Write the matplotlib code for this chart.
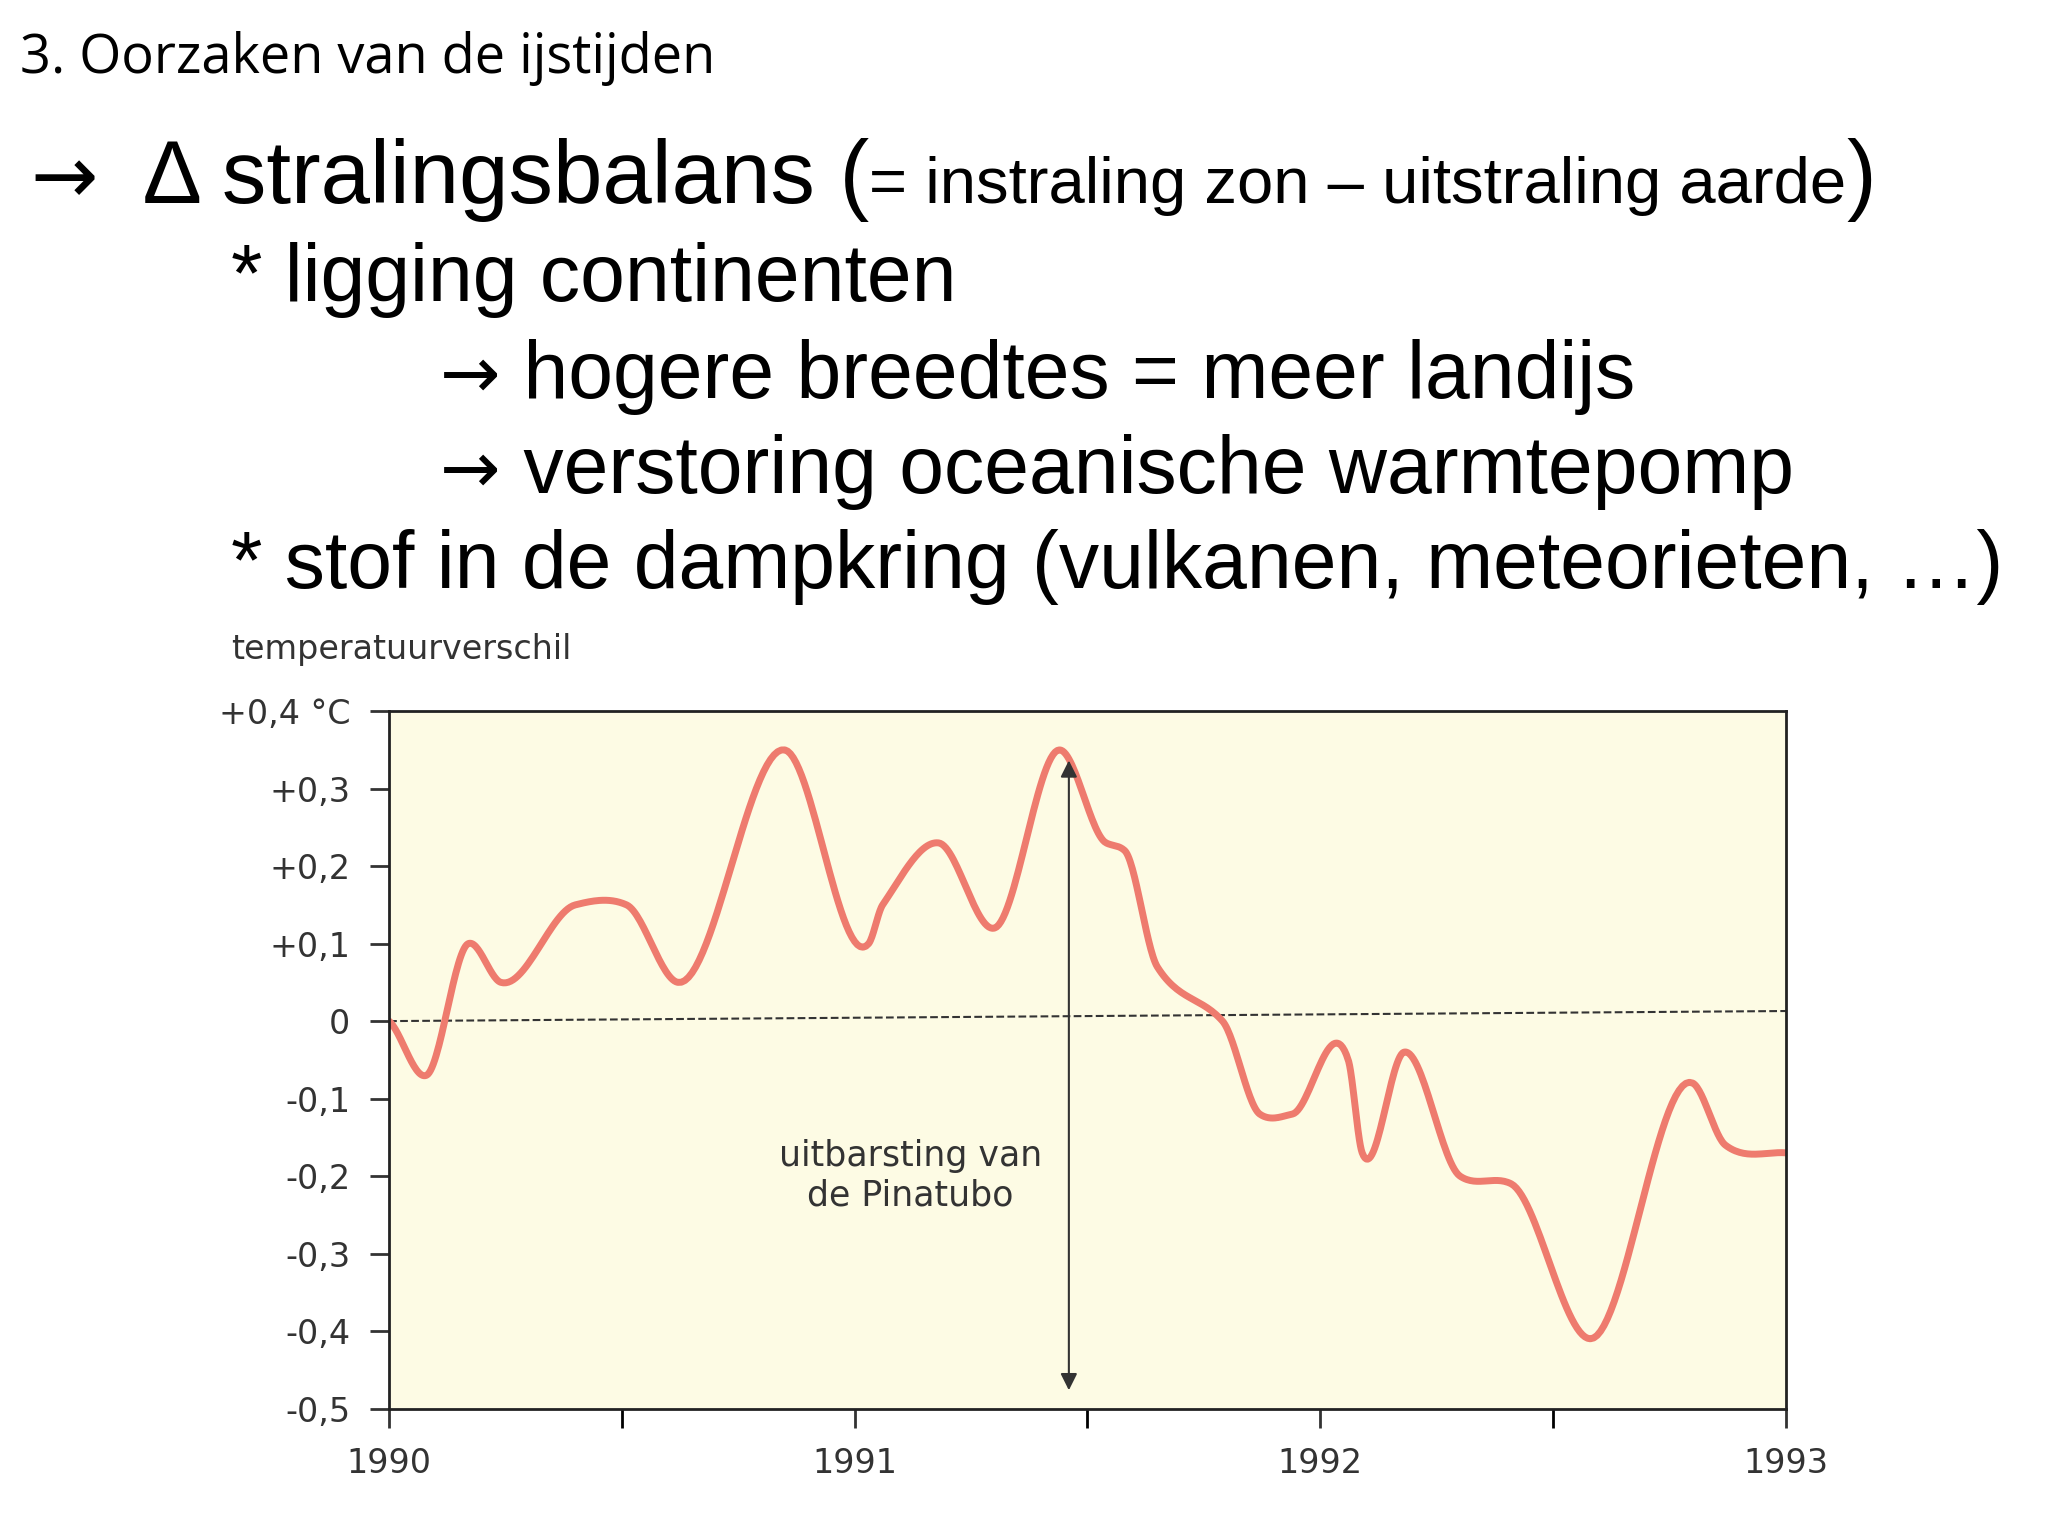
import numpy as np
import matplotlib
matplotlib.use("Agg")
import matplotlib.pyplot as plt

years = [1990.00,1990.08,1990.17,1990.24,1990.40,1990.51,1990.62,1990.85,1991.03,1991.06,1991.18,1991.30,1991.44,1991.54,1991.58,1991.65,1991.79,1991.87,1991.94,1992.06,1992.09,1992.18,1992.30,1992.41,1992.58,1992.80,1992.87,1993.00]
temps = [0.00,-0.07,0.10,0.05,0.15,0.15,0.05,0.35,0.10,0.15,0.23,0.12,0.35,0.23,0.22,0.07,0.00,-0.12,-0.12,-0.05,-0.17,-0.04,-0.20,-0.21,-0.41,-0.08,-0.16,-0.17]
yticks = [0.4,0.3,0.2,0.1,0,-0.1,-0.2,-0.3,-0.4,-0.5]
ylabels = ['+0,4 °C','+0,3','+0,2','+0,1','0','-0,1','-0,2','-0,3','-0,4','-0,5']
xticks = [1990,1991,1992,1993]

def smooth(x, y, n=30):
    x = np.array(x); y = np.array(y)
    xs, ys = [], []
    m = np.gradient(y, x)
    for i in range(len(x)-1):
        h = x[i+1]-x[i]
        t = np.linspace(0, 1, n, endpoint=False)
        h00 = 2*t**3-3*t**2+1; h10 = t**3-2*t**2+t; h01 = -2*t**3+3*t**2; h11 = t**3-t**2
        xs.append(x[i]+t*h)
        ys.append(h00*y[i]+h10*h*m[i]*0.6+h01*y[i+1]+h11*h*m[i+1]*0.6)
    xs.append([x[-1]]); ys.append([y[-1]])
    return np.concatenate(xs), np.concatenate(ys)

fig = plt.figure(figsize=(20.48, 15.36), dpi=100)
fig.patch.set_facecolor('white')
fam = ['Liberation Sans', 'DejaVu Sans']
arr = ['DejaVu Sans']
r = fig.canvas.get_renderer()

def seq(x, y, parts):
    for txt, fs, f in parts:
        t = fig.text(x, y, txt, fontsize=fs, family=f, va='baseline')
        bb = t.get_window_extent(renderer=r)
        x += bb.width / fig.bbox.width

fig.text(0.010, 0.962, '3. Oorzaken van de ijstijden', fontsize=39, family=['Open Sans','DejaVu Sans'], va='center')
seq(0.015, 0.868, [('→', 58, arr), ('  Δ stralingsbalans (', 64, fam),
                   ('= instraling zon – uitstraling aarde', 47, fam), (')', 64, fam)])
seq(0.113, 0.804, [('* ligging continenten', 58, fam)])
seq(0.215, 0.741, [('→', 52, arr), (' hogere breedtes = meer landijs', 58, fam)])
seq(0.215, 0.679, [('→', 52, arr), (' verstoring oceanische warmtepomp', 58, fam)])
seq(0.113, 0.617, [('* stof in de dampkring (vulkanen, meteorieten, …)', 58, fam)])

ax = fig.add_axes([0.19, 0.083, 0.682, 0.454])
ax.set_facecolor('#fdfbe4')
ax.set_xlim(1990, 1993); ax.set_ylim(-0.5, 0.4)
ax.set_yticks(yticks); ax.set_yticklabels(ylabels)
ax.set_xticks(xticks); ax.set_xticklabels([str(v) for v in xticks])
ax.set_xticks([1990.5,1991.5,1992.5], minor=True)
ax.tick_params(axis='both', labelsize=24, colors='#333333', length=14, width=2, pad=14)
ax.tick_params(axis='x', which='minor', length=14, width=2)
for s in ax.spines.values():
    s.set_linewidth(2); s.set_color('#222222')
ax.plot([1990, 1993], [0, 0.013], ls='--', color='#333333', lw=1.5)
sx, sy = smooth(years, temps)
ax.plot(sx, sy, color='#ee7b6e', lw=5, solid_capstyle='round')
ax.annotate('', xy=(1991.46, 0.34), xytext=(1991.46, -0.48),
            arrowprops=dict(arrowstyle='<|-|>', color='#333333', lw=1.5, mutation_scale=25))
ax.text(1991.12, -0.2, 'uitbarsting van\nde Pinatubo', fontsize=25, color='#333333', ha='center', va='center')
fig.text(0.113, 0.577, 'temperatuurverschil', fontsize=24, color='#333333', va='center')
fig.savefig('out.png', dpi=100)
